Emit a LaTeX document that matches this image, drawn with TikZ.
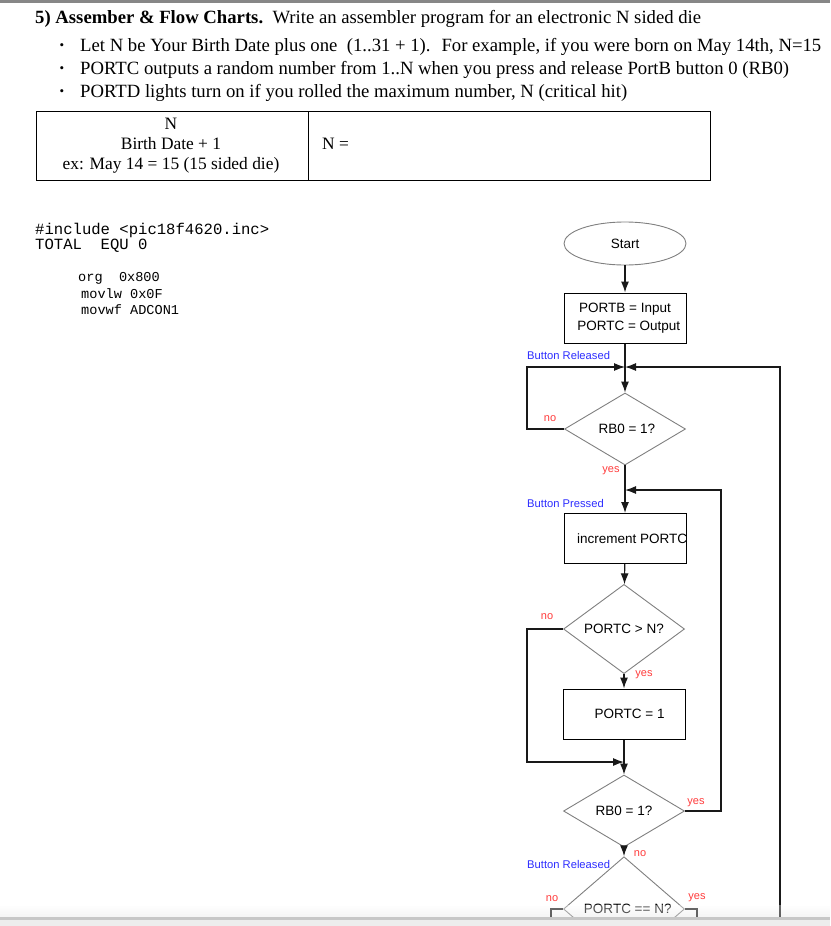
\documentclass[tikz,border=0pt]{standalone}
\usepackage{fontspec}
\setmainfont{Liberation Serif}
\newfontfamily\sansf{Liberation Sans}
\newfontfamily\monof{Liberation Mono}
\usetikzlibrary{shapes.geometric,arrows.meta}
\definecolor{lblblue}{RGB}{45,45,255}
\definecolor{lblred}{RGB}{255,60,60}
\definecolor{shapegray}{RGB}{128,128,128}
\begin{document}
\begin{tikzpicture}[x=1pt,y=-1pt,
  hdr/.style={anchor=west,inner sep=0pt,font=\fontsize{18.7}{21}\selectfont},
  bul/.style={inner sep=0pt,font=\fontsize{13}{15}\selectfont},
  cell/.style={draw=black,line width=1pt,inner sep=0pt},
  celltxt/.style={inner sep=0pt,font=\fontsize{17.4}{20}\selectfont,align=center},
  code/.style={anchor=west,inner sep=0pt,font=\monof\fontsize{15.6}{16}\selectfont},
  codei/.style={anchor=west,inner sep=0pt,font=\monof\fontsize{13.6}{16}\selectfont},
  fc/.style={font=\sansf\fontsize{13.5}{18}\selectfont,inner sep=0pt},
  term/.style={fc,ellipse,draw=shapegray,line width=0.9pt,minimum width=122pt,minimum height=43pt},
  proc/.style={fc,rectangle,draw=black,line width=1pt,minimum width=122pt,minimum height=50pt,align=center},
  dec/.style={fc,diamond,draw=shapegray,line width=0.9pt,minimum width=121pt,minimum height=72pt},
  lblb/.style={font=\sansf\fontsize{11.2}{13}\selectfont,text=lblblue,inner sep=0pt,anchor=west},
  lblr/.style={font=\sansf\fontsize{11}{13}\selectfont,text=lblred,inner sep=0pt},
  conn/.style={draw=black!90,line width=1.2pt},
  arr/.style={conn,-{Latex[length=11pt,width=8pt]}}
]
\useasboundingbox (0,0) rectangle (830,926);
\fill[white] (0,0) rectangle (830,926);
\fill[black!47] (0,0) rectangle (830,2.8);

% header
\node[hdr] (h1) at (35,19) {{\bfseries 5) Assember \& Flow Charts.}\ \ Write an assembler program for an electronic N sided die};
\node[bul] (b1) at (62,47) {•};
\node[hdr] (t1) at (80,47) {Let N be Your Birth Date plus one \ (1..31 + 1). \ For example, if you were born on May 14th, N=15};
\node[bul] (b2) at (62,70) {•};
\node[hdr] (t2) at (80,70) {PORTC outputs a random number from 1..N when you press and release PortB button 0 (RB0)};
\node[bul] (b3) at (62,93) {•};
\node[hdr] (t3) at (80,93) {PORTD lights turn on if you rolled the maximum number, N (critical hit)};

% table
\node[cell,minimum width=272pt,minimum height=69pt] (cellL) at (172,145.5) {};
\node[cell,minimum width=402pt,minimum height=69pt] (cellR) at (509,145.5) {};
\node[celltxt] (ltxt) at (171,146) {N\\Birth Date + 1\\ex: May 14 = 15 (15 sided die)};
\node[celltxt,anchor=west] (rtxt) at (322,144) {N =};

% code
\node[code] (c1) at (35,230) {\#include <pic18f4620.inc>};
\node[code] (c2) at (35,246) {TOTAL\ \ EQU 0};
\node[codei] (c3) at (78,278) {org\ \ 0x800};
\node[codei] (c4) at (81,294) {movlw 0x0F};
\node[codei] (c5) at (81,310) {movwf ADCON1};

% flowchart
\node[term] (start) at (625,243.5) {Start};
\node[proc] (io) at (625,318) {PORTB = Input\\\ \ PORTC = Output};
\coordinate (J1) at (625,367);
\node[dec] (d1) at (625,429) {\ RB0 = 1?};
\coordinate (J2) at (625,490);
\node[proc] (inc) at (625,538.5) {};
\node[fc,anchor=west] (inctxt) at (577,539) {increment PORTC};
\node[dec] (d2) at (624,629) {PORTC > N?};
\node[proc] (p1) at (624,714) {\ \ \ PORTC = 1};
\coordinate (J3) at (624,762);
\node[dec] (d3) at (624,811) {RB0 = 1?};
\node[dec] (d4) at (624,909) {\ \ PORTC == N?};

\coordinate (L1) at (527,367);
\coordinate (R1) at (780,926);
\coordinate (L2) at (527,629);
\coordinate (R2) at (721,811);
\coordinate (L4) at (551,926);
\coordinate (R4) at (697,926);

\draw[arr] (start) -- (io);
\draw[conn] (io) -- (J1);
\draw[arr] (J1) -- (d1);
\draw[arr] (d1.west) -| (L1) -- (J1);
\draw[arr] (R1) |- (J1);
\draw[conn] (d1) -- (J2);
\draw[arr] (J2) -- (inc);
\draw[arr] (d3.east) -- (R2) |- (J2);
\draw[arr] (inc) -- (d2);
\draw[arr] (d2) -- (p1);
\draw[arr] (d2.west) -- (L2) |- (J3);
\draw[conn] (p1) -- (J3);
\draw[arr] (J3) -- (d3);
\draw[arr] (d3) -- (d4);
\draw[conn] (d4.west) -| (L4);
\draw[conn] (d4.east) -| (R4);

% labels
\node[lblb] (bl1) at (527,355) {Button Released};
\node[lblr] (n1) at (550,419) {no};
\node[lblr] (y1) at (611,471) {yes};
\node[lblb] (bp) at (527,503) {Button Pressed};
\node[lblr] (n2) at (547,617) {no};
\node[lblr] (y2) at (644,675) {yes};
\node[lblr] (y3) at (696,803) {yes};
\node[lblr] (n3) at (640,854) {no};
\node[lblb] (bl2) at (527,864) {Button Released};
\node[lblr] (n4) at (552,899) {no};
\node[lblr] (y4) at (697,898) {yes};

% bottom bar
\shade[top color=white,bottom color=black!12,opacity=0.35] (0,905) rectangle (830,917);
\fill[black!22] (0,917) rectangle (830,919.5);
\fill[black!7] (0,919.5) rectangle (830,926);
\end{tikzpicture}
\end{document}
